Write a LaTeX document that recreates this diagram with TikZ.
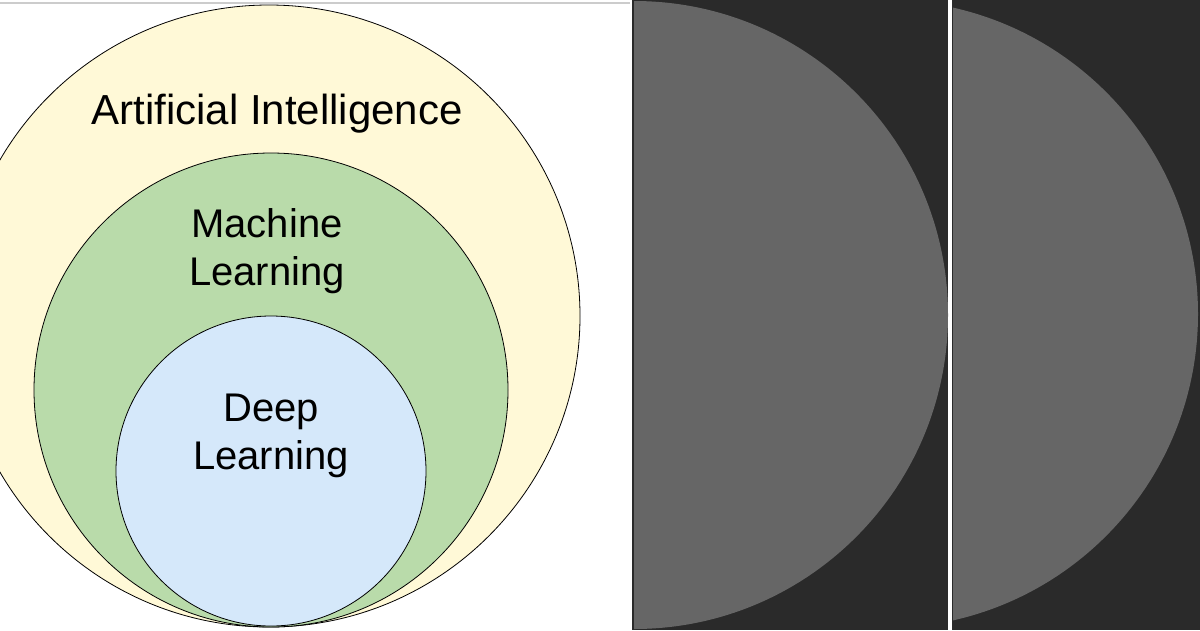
\documentclass[tikz,border=0pt]{standalone}
\usepackage{fontspec}
\setmainfont{Liberation Sans}
\begin{document}
\begin{tikzpicture}[x=1pt,y=-1pt,
  venn/.style={draw=black,line width=0.8pt},
  lbl/.style={font=\fontsize{40}{48}\selectfont,align=center,inner sep=0pt}]
\useasboundingbox (0,0) rectangle (1200,630);
\fill[white] (0,0) rectangle (632,630);
\draw[gray!40,line width=1.2pt] (0,3) -- (630,3);
\begin{scope}
\clip (0,0) rectangle (632,630);
\draw[venn,fill={rgb,255:red,255;green,249;blue,215}] (269,316) circle (311);
\draw[venn,fill={rgb,255:red,185;green,219;blue,170}] (271,390) circle (237);
\draw[venn,fill={rgb,255:red,213;green,232;blue,250}] (271,471) circle (155);
\end{scope}
\node[lbl,font=\fontsize{42}{48}\selectfont] (ai) at (277,114) {Artificial Intelligence};
\node[lbl] (ml) at (267,251) {Machine\\Learning};
\node[lbl] (dl) at (271,436) {Deep\\Learning};
% right panels
\fill[fill={rgb,255:red,42;green,42;blue,42}] (632,0) rectangle (948,630);
\fill[fill={rgb,255:red,42;green,42;blue,42}] (952,0) rectangle (1200,630);
\begin{scope}
\clip (634,0) rectangle (948,630);
\fill[fill={rgb,255:red,102;green,102;blue,102}] (634,315) circle (314);
\end{scope}
\begin{scope}
\clip (953,0) rectangle (1200,630);
\fill[fill={rgb,255:red,102;green,102;blue,102}] (884,314) circle (314);
\end{scope}
\end{tikzpicture}
\end{document}
